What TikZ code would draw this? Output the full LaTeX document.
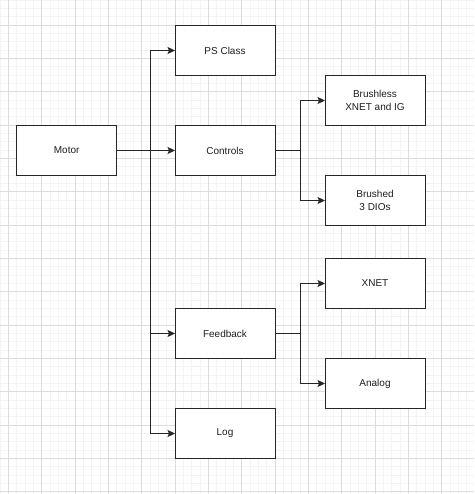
\documentclass[tikz,border=0pt]{standalone}
\usepackage{fontspec}
\setmainfont{Liberation Sans}
\usetikzlibrary{arrows.meta}
\definecolor{minorgrid}{HTML}{F3F3F3}
\definecolor{majorgrid}{HTML}{DCDCDC}
\definecolor{edge}{HTML}{262626}
\definecolor{txt}{HTML}{1E1E1E}
\tikzset{
  blk/.style={draw=edge, line width=1pt, fill=white, minimum width=100pt, minimum height=50pt,
    inner sep=0pt, outer sep=0pt, align=center, text=txt, font=\fontsize{10}{12.5}\selectfont},
  arr/.style={draw=edge, line width=1pt, -{Stealth[length=7.5pt,width=7pt,inset=1.5pt]}}
}
\begin{document}
\begin{tikzpicture}[x=1pt,y=-1pt]
\useasboundingbox (0,0) rectangle (474,494);
\fill[white] (0,0) rectangle (474,494);
% grid
\foreach \i in {0,...,57} {
  \draw[minorgrid, line width=0.6pt] ({\i*8.3333},0) -- ({\i*8.3333},494);
}
\foreach \i in {0,...,59} {
  \draw[minorgrid, line width=0.6pt] (0,{\i*8.3333}) -- (474,{\i*8.3333});
}
\foreach \i in {0,...,14} {
  \draw[majorgrid, line width=0.7pt] ({8.3333+\i*33.3333},0) -- ({8.3333+\i*33.3333},494);
  \draw[majorgrid, line width=0.7pt] (0,{25+\i*33.3333}) -- (474,{25+\i*33.3333});
}
% nodes
\node[blk] (motor) at (66.67,150.5) {Motor};
\node[blk] (ps) at (225,50.5) {PS Class};
\node[blk] (ctrl) at (225,150.5) {Controls};
\node[blk] (fb) at (225,333.5) {Feedback};
\node[blk] (log) at (225,433.5) {Log};
\node[blk] (bl) at (375,100.5) {Brushless\\XNET and IG};
\node[blk] (bd) at (375,200.5) {Brushed\\3 DIOs};
\node[blk] (xn) at (375,283.5) {XNET};
\node[blk] (an) at (375,383.5) {Analog};
% connectors
\draw[arr] (motor.east) -- (ctrl.west);
\draw[arr] (motor.east) -- ++(33.33,0) |- (ps.west);
\draw[arr] (motor.east) -- ++(33.33,0) |- (fb.west);
\draw[arr] (motor.east) -- ++(33.33,0) |- (log.west);
\draw[arr] (ctrl.east) -- ++(25,0) |- (bl.west);
\draw[arr] (ctrl.east) -- ++(25,0) |- (bd.west);
\draw[arr] (fb.east) -- ++(25,0) |- (xn.west);
\draw[arr] (fb.east) -- ++(25,0) |- (an.west);
\end{tikzpicture}
\end{document}
